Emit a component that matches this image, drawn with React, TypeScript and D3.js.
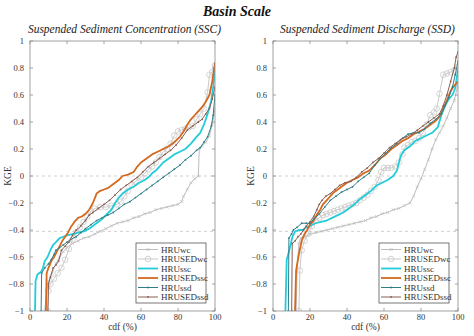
import React from "react";
import * as d3 from "d3";

type Pt = [number, number];

// ---- Data (cdf %, KGE) ----
const sscHRUwc: Pt[] = [[8,-1],[9,-0.85],[10,-0.78],[12,-0.72],[14,-0.65],[16,-0.6],[18,-0.56],[20,-0.53],[23,-0.5],[26,-0.48],[29,-0.46],[32,-0.45],[35,-0.43],[38,-0.41],[41,-0.39],[44,-0.37],[47,-0.35],[50,-0.34],[53,-0.33],[56,-0.31],[59,-0.3],[62,-0.28],[65,-0.27],[68,-0.25],[71,-0.24],[74,-0.23],[77,-0.22],[80,-0.21],[82,-0.19],[83,-0.15],[85,-0.1],[87,-0.05],[89,-0.02],[91,0.0],[91.5,0.2],[93,0.22],[95,0.25],[97,0.3],[98.5,0.38],[100,0.5]];
const sscHRUSEDwc: Pt[] = [[9.5,-1],[10,-0.85],[11,-0.8],[13,-0.76],[15,-0.72],[17,-0.68],[19,-0.62],[21,-0.54],[23,-0.47],[25,-0.42],[27,-0.38],[29,-0.34],[31,-0.3],[33,-0.26],[35,-0.24],[38,-0.23],[41,-0.23],[44,-0.22],[47,-0.21],[49,-0.19],[51,-0.15],[53,-0.11],[55,-0.07],[57,-0.04],[60,-0.01],[62,0.02],[64,0.05],[66,0.07],[68,0.1],[70,0.14],[72,0.18],[74,0.2],[76,0.24],[78,0.3],[80,0.33],[82,0.34],[84,0.35],[86,0.36],[88,0.37],[90,0.42],[92,0.46],[94,0.5],[96,0.62],[97,0.75],[98.5,0.77],[100,0.82]];
const sscHRUssc: Pt[] = [[2.7,-1],[3,-0.78],[4,-0.73],[6,-0.71],[7,-0.68],[8,-0.63],[9.5,-0.6],[11,-0.55],[12.5,-0.51],[14,-0.49],[16,-0.46],[18,-0.45],[20,-0.44],[23,-0.43],[26,-0.42],[29,-0.41],[32,-0.39],[35,-0.36],[38,-0.33],[41,-0.29],[44,-0.25],[46,-0.2],[48,-0.16],[50,-0.13],[53,-0.1],[56,-0.08],[59,-0.05],[62,-0.03],[64,-0.01],[66,0.02],[68,0.04],[70,0.07],[72,0.1],[75,0.13],[78,0.16],[81,0.18],[84,0.2],[87,0.24],[90,0.29],[92,0.32],[94,0.38],[96,0.46],[98,0.56],[99,0.66],[100,0.78]];
const sscHRUSEDssc: Pt[] = [[8.6,-1],[9,-0.72],[10,-0.68],[11.5,-0.63],[13,-0.6],[14.5,-0.56],[16,-0.52],[17.5,-0.48],[19,-0.45],[20.5,-0.42],[22,-0.38],[24,-0.34],[26,-0.31],[28,-0.3],[30,-0.28],[32,-0.25],[34,-0.2],[36,-0.13],[38,-0.11],[40,-0.1],[42,-0.09],[44,-0.07],[46,-0.05],[48,-0.03],[50,0.0],[53,0.01],[56,0.03],[58,0.07],[60,0.1],[63,0.13],[66,0.16],[69,0.18],[72,0.2],[75,0.22],[78,0.25],[81,0.29],[83,0.33],[85,0.38],[87,0.42],[89,0.45],[91,0.48],[93,0.51],[95,0.55],[97,0.6],[98.5,0.7],[100,0.84]];
const sscHRUssd: Pt[] = [[6,-1],[6.3,-0.72],[8,-0.68],[10,-0.65],[11.5,-0.62],[13,-0.58],[14,-0.55],[16,-0.53],[18,-0.51],[20,-0.49],[22,-0.47],[25,-0.45],[27.5,-0.42],[30,-0.39],[33,-0.36],[36,-0.33],[39,-0.31],[42,-0.29],[45,-0.27],[48,-0.24],[51,-0.21],[54,-0.19],[57,-0.16],[60,-0.13],[63,-0.1],[66,-0.07],[69,-0.04],[72,-0.01],[75,0.02],[78,0.05],[81,0.08],[84,0.12],[87,0.15],[90,0.19],[92,0.21],[94,0.25],[96,0.29],[98,0.37],[99,0.45],[100,0.6]];
const sscHRUSEDssd: Pt[] = [[9.7,-1],[10,-0.8],[11,-0.75],[12.5,-0.68],[14,-0.66],[15.5,-0.63],[17,-0.55],[19,-0.52],[21,-0.49],[23,-0.44],[25,-0.4],[27.5,-0.37],[30,-0.33],[32,-0.29],[34,-0.27],[37,-0.24],[40,-0.21],[43,-0.18],[46,-0.14],[49,-0.1],[52,-0.07],[55,-0.04],[58,-0.01],[61,0.03],[64,0.07],[67,0.1],[70,0.13],[73,0.16],[76,0.19],[79,0.23],[82,0.28],[85,0.34],[88,0.37],[91,0.4],[93,0.42],[95,0.46],[97,0.5],[98.5,0.57],[100,0.66]];

const ssdHRUwc: Pt[] = [[12.5,-1],[13,-0.7],[14,-0.5],[15,-0.46],[17,-0.45],[20,-0.43],[23,-0.42],[26,-0.41],[29,-0.4],[32,-0.39],[35,-0.38],[38,-0.37],[41,-0.36],[44,-0.35],[47,-0.34],[50,-0.33],[53,-0.31],[56,-0.3],[59,-0.28],[62,-0.27],[65,-0.25],[68,-0.24],[71,-0.22],[74,-0.2],[76,-0.15],[78,-0.08],[80,-0.02],[82,0.05],[84,0.12],[86,0.2],[88,0.27],[90,0.32],[92,0.37],[94,0.43],[96,0.5],[98,0.56],[100,0.68]];
const ssdHRUSEDwc: Pt[] = [[14,-1],[14.5,-0.7],[15.5,-0.55],[17,-0.48],[19,-0.43],[21,-0.37],[23,-0.33],[25,-0.31],[27,-0.29],[29,-0.28],[31,-0.27],[33,-0.26],[35,-0.25],[37,-0.24],[39,-0.23],[41,-0.22],[43,-0.21],[45,-0.2],[47,-0.18],[49,-0.16],[51,-0.14],[53,-0.11],[55,-0.08],[57,-0.03],[58.5,0.03],[60,0.06],[62,0.06],[64,0.06],[66,0.07],[68,0.1],[70,0.16],[71,0.21],[73,0.23],[75,0.25],[77,0.26],[79,0.28],[81,0.32],[83,0.38],[85,0.45],[87,0.47],[88.5,0.5],[90,0.61],[92,0.75],[94,0.76],[96,0.77],[98,0.78],[100,0.81]];
const ssdHRUssc: Pt[] = [[6.7,-1],[7.4,-0.62],[9,-0.54],[10.5,-0.45],[12,-0.41],[14,-0.4],[16,-0.4],[18,-0.38],[20,-0.37],[23,-0.35],[26,-0.34],[29,-0.33],[32,-0.31],[35,-0.29],[38,-0.27],[41,-0.24],[44,-0.21],[47,-0.17],[50,-0.14],[53,-0.11],[56,-0.07],[59,-0.05],[62,-0.03],[65,0.0],[67,0.04],[69,0.15],[71,0.19],[74,0.22],[77,0.26],[80,0.28],[83,0.3],[86,0.32],[89,0.36],[91,0.45],[93,0.52],[95,0.57],[97,0.6],[98.5,0.65],[100,0.79]];
const ssdHRUSEDssc: Pt[] = [[11.9,-1],[12.5,-0.7],[13.7,-0.6],[15.5,-0.48],[17,-0.43],[18.5,-0.4],[20,-0.36],[22,-0.33],[24,-0.28],[25.5,-0.25],[27,-0.21],[29,-0.18],[31,-0.15],[33,-0.12],[35,-0.1],[37,-0.08],[40,-0.05],[43,-0.03],[46,-0.01],[49,0.02],[52,0.04],[55,0.08],[58,0.13],[61,0.16],[64,0.2],[67,0.23],[70,0.26],[73,0.28],[76,0.31],[79,0.33],[82,0.35],[85,0.38],[88,0.41],[90,0.44],[92,0.5],[94,0.56],[96,0.63],[98,0.67],[100,0.7]];
const ssdHRUssd: Pt[] = [[8.3,-1],[8.6,-0.46],[10,-0.43],[11,-0.4],[13,-0.38],[15.5,-0.35],[18,-0.35],[20,-0.35],[22,-0.32],[25,-0.28],[28,-0.23],[31,-0.18],[34,-0.15],[37,-0.12],[40,-0.1],[43,-0.08],[46,-0.04],[49,-0.01],[52,0.02],[55,0.08],[58,0.13],[61,0.17],[64,0.21],[67,0.24],[70,0.28],[73,0.31],[76,0.32],[79,0.32],[82,0.35],[85,0.39],[88,0.42],[91,0.46],[93,0.52],[95,0.58],[97,0.66],[98.5,0.75],[100,0.85]];
const ssdHRUSEDssd: Pt[] = [[10.1,-1],[10.4,-0.5],[12,-0.48],[13.5,-0.45],[15,-0.43],[16.5,-0.4],[18,-0.37],[20,-0.34],[22,-0.3],[23.7,-0.25],[25,-0.21],[26.5,-0.18],[28.5,-0.15],[31,-0.13],[33.5,-0.1],[36,-0.07],[39,-0.05],[42,-0.04],[45,-0.01],[48,0.03],[51,0.06],[54,0.1],[57,0.13],[60,0.17],[63,0.21],[66,0.24],[69,0.27],[72,0.29],[75,0.31],[78,0.34],[81,0.37],[84,0.4],[87,0.43],[90,0.46],[92,0.52],[94,0.6],[96,0.7],[98,0.8],[99,0.88],[100,0.92]];

const seriesNames = ["HRUwc", "HRUSEDwc", "HRUssc", "HRUSEDssc", "HRUssd", "HRUSEDssd"];
const xTicks = [0, 20, 40, 60, 80, 100];
const yTicks = [1, 0.8, 0.6, 0.4, 0.2, 0, -0.2, -0.4, -0.6, -0.8, -1];
const refLines = [0, -0.41];

type Style = { color: string; width: number; marker: "x" | "circle" | "dot" | "none" };
const styles: Style[] = [
  { color: "#bdbdbd", width: 1, marker: "x" },
  { color: "#c9c9c9", width: 1, marker: "circle" },
  { color: "#22ccd9", width: 1.8, marker: "none" },
  { color: "#d4691f", width: 1.8, marker: "none" },
  { color: "#2e7f89", width: 1, marker: "dot" },
  { color: "#8a5e52", width: 1, marker: "dot" },
];

const FONT = "Liberation Serif, Times New Roman, DejaVu Serif, serif";
const fs = (size: number, extra: React.CSSProperties = {}): React.CSSProperties => ({
  fontFamily: FONT,
  fontSize: size,
  ...extra,
});

function Marker({ kind, x, y, color }: { kind: string; x: number; y: number; color: string }) {
  if (kind === "circle")
    return <circle cx={x} cy={y} r={2.8} fill="none" stroke={color} strokeWidth={0.8} />;
  if (kind === "dot") return <circle cx={x} cy={y} r={0.9} fill={color} />;
  if (kind === "x")
    return (
      <path
        d={`M${x - 1.5},${y - 1.5}L${x + 1.5},${y + 1.5}M${x - 1.5},${y + 1.5}L${x + 1.5},${y - 1.5}`}
        stroke={color}
        strokeWidth={0.7}
      />
    );
  return null;
}

function Panel({
  left,
  right,
  title,
  data,
  ylabelX,
}: {
  left: number;
  right: number;
  title: string;
  data: Pt[][];
  ylabelX: number;
}) {
  const top = 41;
  const bottom = 311;
  const x = d3.scaleLinear().domain([0, 100]).range([left, right]);
  const y = d3.scaleLinear().domain([-1, 1]).range([bottom, top]);
  const line = d3
    .line<Pt>()
    .x((d) => x(d[0]))
    .y((d) => y(d[1]));
  const tl = 3;
  const legX = right - 79;
  const legY = bottom - 68;
  return (
    <g>
      <text x={(left + right) / 2 + 2} y={33} textAnchor="middle" style={fs(11.5, { fontStyle: "italic" })} fill="#222">
        {title}
      </text>
      {refLines.map((v) => (
        <line key={v} x1={left} x2={right} y1={y(v)} y2={y(v)} stroke="#c4c4c4" strokeWidth={0.8} strokeDasharray="3,3" />
      ))}
      <defs>
        <clipPath id={`clip-${left}`}>
          <rect x={left} y={top - 2} width={right - left} height={bottom - top + 2} />
        </clipPath>
      </defs>
      <g clipPath={`url(#clip-${left})`}>
        {data.map((s, i) => (
          <g key={i}>
            <path d={line(s) || ""} fill="none" stroke={styles[i].color} strokeWidth={styles[i].width} strokeLinejoin="round" />
            {s.map((p, j) => (
              <Marker key={j} kind={styles[i].marker} x={x(p[0])} y={y(p[1])} color={styles[i].color} />
            ))}
          </g>
        ))}
      </g>
      <rect x={left} y={top} width={right - left} height={bottom - top} fill="none" stroke="#8a8a8a" strokeWidth={0.8} />
      {xTicks.map((t) => (
        <g key={t}>
          <line x1={x(t)} x2={x(t)} y1={bottom} y2={bottom - tl} stroke="#8a8a8a" strokeWidth={0.8} />
          <line x1={x(t)} x2={x(t)} y1={top} y2={top + tl} stroke="#8a8a8a" strokeWidth={0.8} />
          <text x={x(t)} y={320} textAnchor="middle" style={fs(8.5)} fill="#333">
            {t}
          </text>
        </g>
      ))}
      {yTicks.map((t) => (
        <g key={t}>
          <line x1={left} x2={left + tl} y1={y(t)} y2={y(t)} stroke="#8a8a8a" strokeWidth={0.8} />
          <line x1={right} x2={right - tl} y1={y(t)} y2={y(t)} stroke="#8a8a8a" strokeWidth={0.8} />
          <text x={left - 6} y={y(t) + 3} textAnchor="end" style={fs(8.5)} fill="#333">
            {d3.format("")(t)}
          </text>
        </g>
      ))}
      <text x={(left + right) / 2} y={330} textAnchor="middle" style={fs(9.5)} fill="#333">
        cdf (%)
      </text>
      <text transform={`translate(${ylabelX},${y(0)}) rotate(-90)`} textAnchor="middle" style={fs(9.5)} fill="#333">
        KGE
      </text>
      <rect x={legX} y={legY} width={70} height={60} fill="#fff" stroke="#555" strokeWidth={0.8} />
      {seriesNames.map((n, i) => {
        const ly = legY + 6.5 + i * 9.5;
        const st = styles[i];
        return (
          <g key={n}>
            <line x1={legX + 2} x2={legX + 22} y1={ly} y2={ly} stroke={st.color} strokeWidth={st.width} />
            <Marker kind={st.marker} x={legX + 12} y={ly} color={st.color} />
            <text x={legX + 25} y={ly + 3} style={fs(9)} fill="#333">
              {n}
            </text>
          </g>
        );
      })}
    </g>
  );
}

export default function App() {
  return (
    <svg width={474} height={336} style={{ position: "absolute", left: 0, top: 0, background: "#fff" }}>
      <text x={237} y={16} textAnchor="middle" style={fs(14, { fontWeight: "bold", fontStyle: "italic" })} fill="#111">
        Basin Scale
      </text>
      <Panel
        left={30}
        right={215}
        title="Suspended Sediment Concentration (SSC)"
        data={[sscHRUwc, sscHRUSEDwc, sscHRUssc, sscHRUSEDssc, sscHRUssd, sscHRUSEDssd]}
        ylabelX={11}
      />
      <Panel
        left={273}
        right={458}
        title="Suspended Sediment Discharge (SSD)"
        data={[ssdHRUwc, ssdHRUSEDwc, ssdHRUssc, ssdHRUSEDssc, ssdHRUssd, ssdHRUSEDssd]}
        ylabelX={254}
      />
    </svg>
  );
}
